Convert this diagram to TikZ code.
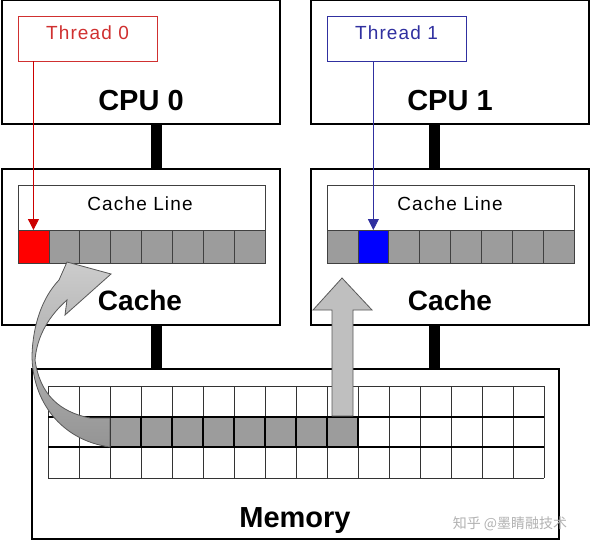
\documentclass[tikz,border=0pt]{standalone}
\usepackage{fontspec}
\setmainfont{Liberation Sans}
\newfontfamily\cjkwm{Noto Sans CJK SC}
\newfontfamily\spaced[LetterSpace=6]{Liberation Sans}
\usetikzlibrary{arrows.meta,calc}
\definecolor{cellgray}{HTML}{9C9C9C}
\definecolor{thredred}{HTML}{D03030}
\definecolor{thredblue}{HTML}{3030A0}
\tikzset{
  bigbox/.style={draw=black,line width=2pt,fill=white,anchor=north west,inner sep=0pt,outer sep=0pt},
  threadbox/.style={draw=#1,line width=0.8pt,fill=white,anchor=north west,inner sep=0pt,outer sep=0pt,minimum width=139pt,minimum height=45pt,text=#1,font=\spaced\fontsize{19}{20}\selectfont,text depth=11pt},
  linebox/.style={draw=black!75,line width=0.8pt,anchor=north west,inner sep=0pt,outer sep=0pt,minimum width=247pt,minimum height=78pt},
  cell/.style={draw=black!75,line width=0.8pt,fill=cellgray,anchor=north west,inner sep=0pt,outer sep=0pt,minimum width=30.9pt,minimum height=33pt},
  bus/.style={line width=11pt,draw=black},
  thrdarrow/.style={draw=#1,line width=0.8pt,-{Triangle[width=11pt,length=11pt,fill=#1]}},
  bigtext/.style={font=\bfseries\fontsize{29}{30}\selectfont,anchor=base,inner sep=0pt},
  cachetext/.style={font=\bfseries\fontsize{28}{30}\selectfont,anchor=base,inner sep=0pt},
  linetext/.style={font=\spaced\fontsize{19}{20}\selectfont,anchor=base,inner sep=0pt},
  grayarrow/.style={draw=black!65,line width=0.8pt,fill=black!25},
}
\begin{document}
\begin{tikzpicture}[x=1pt,y=-1pt]
\useasboundingbox (0,0) rectangle (596,546);
% CPU boxes
\node[bigbox,minimum width=278pt,minimum height=124pt] (cpu0) at (2,0) {};
\node[bigbox,minimum width=278pt,minimum height=124pt] (cpu1) at (311,0) {};
\node[bigtext] (cpu0t) at (141,110) {CPU 0};
\node[bigtext] (cpu1t) at (450,110) {CPU 1};
\node[threadbox=thredred] (th0) at (18,16) {Thread 0};
\node[threadbox=thredblue] (th1) at (327,16) {Thread 1};
% Cache boxes
\node[bigbox,minimum width=278pt,minimum height=156pt] (cache0) at (2,169) {};
\node[bigbox,minimum width=278pt,minimum height=156pt] (cache1) at (311,169) {};
\node[linebox] (line0) at (18,185) {};
\node[linebox] (line1) at (327,185) {};
\node[linetext] (line0t) at (140,210) {Cache Line};
\node[linetext] (line1t) at (450,210) {Cache Line};
\node[cachetext] (cache0t) at (140,310) {Cache};
\node[cachetext] (cache1t) at (450,310) {Cache};
\foreach \i in {0,...,7}{
  \node[cell] (ca\i) at ({18+\i*30.9},230) {};
  \node[cell] (cb\i) at ({327+\i*30.9},230) {};
}
\node[cell,fill=red] at (ca0.north west) {};
\node[cell,fill=blue] at (cb1.north west) {};
% Memory
\node[bigbox,minimum width=527pt,minimum height=170pt] (mem) at (32,369) {};
\node[bigtext] (memt) at (295,527) {Memory};
\foreach \j in {0,...,16}{
  \draw[black!80,line width=0.8pt] ({48+\j*31},386) -- ({48+\j*31},478);
}
\draw[black!80,line width=0.8pt] (48,386) -- (544,386);
\draw[black,line width=1.3pt] (48,417) -- (544,417);
\draw[black,line width=1.3pt] (48,447) -- (544,447);
\draw[black!80,line width=0.8pt] (48,478) -- (544,478);
\foreach \j in {0,...,7}{
  \node[draw=black,line width=2.2pt,fill=cellgray,anchor=north west,inner sep=0pt,outer sep=0pt,minimum width=31pt,minimum height=30pt] (m\j) at ({110+\j*31},417) {};
}
% Buses
\coordinate (b0a) at (156,124);
\coordinate (b0b) at (156,169);
\coordinate (b0c) at (156,325);
\coordinate (b0d) at (156,369);
\coordinate (b1a) at (434,124);
\coordinate (b1b) at (434,169);
\coordinate (b1c) at (434,325);
\coordinate (b1d) at (434,369);
\draw[bus] (b0a) -- (b0b);
\draw[bus] (b0c) -- (b0d);
\draw[bus] (b1a) -- (b1b);
\draw[bus] (b1c) -- (b1d);
% Thread arrows
\draw[thrdarrow=red!80!black] (th0.south west -| ca0.north) -- (ca0.north);
\draw[thrdarrow=thredblue] (th1.south west -| cb1.north) -- (cb1.north);
% Curved gray arrow
\path[grayarrow,top color=black!20,bottom color=black!42]
  (110,418) -- (90,418) .. controls (60,412) and (40,395) .. (35,360)
  .. controls (37,335) and (50,315) .. (67,300)
  -- (65,315) -- (111,274) -- (67,262) -- (59,280)
  .. controls (42,298) and (33,325) .. (32,355)
  .. controls (32,400) and (60,440) .. (110,447) -- cycle;
% Straight gray arrow
\path[grayarrow] (332,416) -- (332,310) -- (313,310) -- (342,278) -- (372,310) -- (353,310) -- (353,416) -- cycle;
% watermark
\node[text=black!30,font=\cjkwm\fontsize{14}{15}\selectfont] (wm) at (510,524) {知乎 @墨睛融技术};
\end{tikzpicture}
\end{document}
